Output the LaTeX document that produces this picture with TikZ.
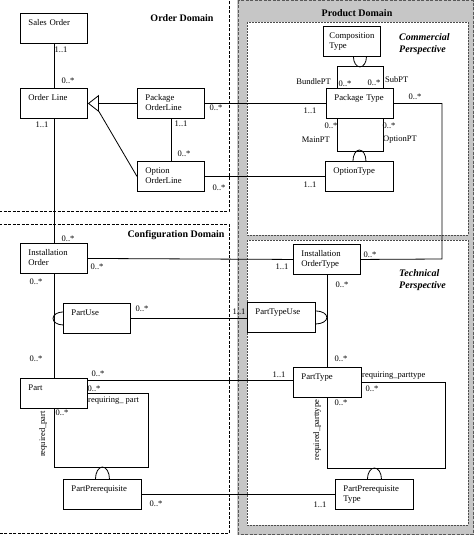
\documentclass[tikz,border=0pt]{standalone}
\usepackage{fontspec}
\setmainfont{Liberation Serif}
\usetikzlibrary{arrows.meta,positioning,calc}

\tikzset{
  entity/.style={draw, line width=0.9pt, anchor=north west, inner xsep=8pt, inner ysep=4pt,
    text width=#1, align=left, text height=8pt, text depth=14pt, font=\fontsize{8.7}{10.5}\selectfont},
  entity/.default=51pt,
  mult/.style={inner sep=0pt, font=\fontsize{8.5}{10}\selectfont},
  domaintitle/.style={inner sep=0pt, font=\fontsize{10}{12}\selectfont\bfseries},
  perspective/.style={inner sep=0pt, align=left, anchor=west, font=\fontsize{10}{12}\selectfont\bfseries\itshape},
  link/.style={line width=0.8pt},
  boundary/.style={line width=1pt, dash pattern=on 3pt off 1.5pt},
  view/.style={fill=white, draw=gray!60!black, line width=0.8pt, dash pattern=on 2pt off 1pt},
}

\begin{document}
\begin{tikzpicture}[x=1pt, y=-1pt]
            \useasboundingbox (0,0) rectangle (474,535);

            % Domains
            \fill[gray!45] (237,0) rectangle (474,535);
            \draw[boundary, gray!70!black] (238,1) rectangle (473,534);
            \draw[view] (247,22) rectangle (468,235);
            \draw[view] (247,240) rectangle (468,525);
            \draw[boundary] (-1,211) -- (229,211) -- (229,-1);
            \draw[boundary] (-1,224) -- (229,224) -- (229,533) -- (-1,533);

            \node[domaintitle] (order_dom) at (182,18) {Order Domain};
            \node[domaintitle] (conf_dom) at (176,235) {Configuration Domain};
            \node[domaintitle] (prod_dom) at (357,13) {Product Domain};
            \node[perspective] (comm_view) at (399,44) {Commercial\\Perspective};
            \node[perspective] (tech_view) at (399,280) {Technical\\Perspective};

            % Classes
            \node[entity] (so) at (20,13) {Sales Order};
            \node[entity] (ol) at (20,88) {Order Line};
            \node[entity] (pol) at (137,88) {Package\\OrderLine};
            \node[entity] (ool) at (137,161) {Option\\OrderLine};

            \node[entity=45pt, inner xsep=6pt] (ct) at (323,26) {Composition\\Type};
            \node[entity] (pt) at (326,88) {Package Type};
            \node[entity=52pt] (ot) at (325,161) {OptionType};

            \node[entity] (io) at (20,243) {Installation\\Order};
            \node[entity] (iot) at (293,244) {Installation\\OrderType};
            \node[entity] (pu) at (63,303) {PartUse};
            \node[entity=52pt] (ptu) at (247,302) {PartTypeUse};

            \node[entity] (part) at (20,378) {Part};
            \node[entity=52pt] (ptype) at (293,367) {PartType};
            \node[entity=62pt] (pp) at (63,479) {PartPrerequisite};
            \node[entity=62pt] (ppt) at (335,479) {PartPrerequisite\\Type};

            \coordinate (genlow) at ([xshift=11pt,yshift=-8pt]ol.east);
            \coordinate (ctfoot) at (ct.south -| pt.north);
            \coordinate (ptturn) at (442,259);
            \coordinate (partlink) at ([yshift=-2pt]part.north east);
            \coordinate (partloop) at (148,467);
            \coordinate (ptypeloop) at (445,468);

            % Order domain
            \draw[link] (so.south) -- (ol.north);
            \draw[link, -{Triangle[open, length=11pt, width=17pt]}] (pol.west) -- (ol.east);
            \draw[link] (ool.west) -- (genlow);
            \draw[link] (pol.south) -- (pol.south |- ool.north);
            \draw[link] (pol.east) -- (pt.west);
            \draw[link] (ool.east) -- (ot.west);
            \draw[link] (ol.south) -- (io.north);

            % Commercial perspective
            \draw[link] ([xshift=-23pt]pt.north) -- ++(0,-22) -| ([xshift=23pt]pt.north);
            \draw[link] ([xshift=-6.5pt]ctfoot) arc[start angle=180, end angle=360, x radius=6.5pt, y radius=10pt];
            \draw[link] ([xshift=-23pt]pt.south) -- ++(0,32) -| ([xshift=23pt]pt.south);
            \draw[link] ([xshift=-6.5pt]ot.north) arc[start angle=180, end angle=0, x radius=6.5pt, y radius=11pt];
            \draw[link] (pt.east) -| (ptturn) -- (iot.east);

            % Configuration domain
            \draw[link] (io.east) -- (iot.west);
            \draw[link] (io.south) -- (part.north);
            \draw[link] ([yshift=6.5pt]pu.west) arc[start angle=90, end angle=270, x radius=10pt, y radius=6.5pt];
            \draw[link] (pu.east) -- (pu.east -| ptu.west);
            \draw[link] ([yshift=6.5pt]ptu.east) arc[start angle=90, end angle=-90, x radius=11pt, y radius=6.5pt];
            \draw[link] (iot.south) -- (iot.south |- ptype.north);
            \draw[link] (partlink) -- (partlink -| ptype.west);
            \draw[link] (part.east) -| (partloop) -| (part.south);
            \draw[link] ([xshift=-7pt]pp.north) arc[start angle=180, end angle=0, x radius=7pt, y radius=12pt];
            \draw[link] (pp.east) -- (ppt.west);
            \draw[link] (ptype.east) -| (ptypeloop) -| (ptype.south);
            \draw[link] ([xshift=-7pt]ppt.north) arc[start angle=180, end angle=0, x radius=7pt, y radius=11pt];

            % Multiplicities and roles
            \node[mult] (so_m) at (61,50) {1..1};
            \node[mult] (ol_m) at (68,81) {0..*};
            \node[mult] (ol_m2) at (42,125) {1..1};
            \node[mult] (pol_m) at (181,124) {1..1};
            \node[mult] (ool_m) at (184,154) {0..*};
            \node[mult] (pol_m2) at (216,108) {0..*};
            \node[mult] (ool_m2) at (219,188) {0..*};
            \node[mult] (pt_m) at (310,111) {1..1};
            \node[mult] (pt_m2) at (415,97) {0..*};
            \node[mult] (ot_m) at (310,185) {1..1};

            \node[mult, anchor=east] (bundle) at (331,82) {BundlePT};
            \node[mult] (bundle_m) at (345,84) {0..*};
            \node[mult] (sub_m) at (374,83) {0..*};
            \node[mult, anchor=west] (sub) at (385,80) {SubPT};
            \node[mult] (main_m) at (331,126) {0..*};
            \node[mult, anchor=east] (main) at (330,140) {MainPT};
            \node[mult] (opt_m) at (389,126) {0..*};
            \node[mult, anchor=west] (opt) at (383,140) {OptionPT};

            \node[mult] (io_m) at (68,239) {0..*};
            \node[mult] (io_m2) at (97,267) {0..*};
            \node[mult] (io_m3) at (36,282) {0..*};
            \node[mult] (pu_m) at (142,309) {0..*};
            \node[mult] (ptu_m) at (239,312) {1..1};
            \node[mult] (iot_m) at (282,267) {1..1};
            \node[mult] (iot_m2) at (370,255) {0..*};
            \node[mult] (iot_m3) at (342,285) {0..*};
            \node[mult] (ptype_m) at (341,359) {0..*};

            \node[mult] (part_m) at (36,359) {0..*};
            \node[mult] (part_m2) at (98,374) {0..*};
            \node[mult] (part_m3) at (94,389) {0..*};
            \node[mult, anchor=west] (requiring) at (88,401) {requiring\_ part};
            \node[mult] (part_m4) at (62,413) {0..*};
            \node[mult, rotate=90] (required) at (43,434) {required\_part};
            \node[mult] (pp_m) at (156,504) {0..*};

            \node[mult] (ptype_m2) at (279,375) {1..1};
            \node[mult, anchor=west] (requiring_t) at (362,376) {requiring\_parttype};
            \node[mult] (ptype_m3) at (372,389) {0..*};
            \node[mult] (ptype_m4) at (341,403) {0..*};
            \node[mult, rotate=90] (required_t) at (317,430) {required\_parttype};
            \node[mult] (ppt_m) at (320,505) {1..1};
\end{tikzpicture}
\end{document}
